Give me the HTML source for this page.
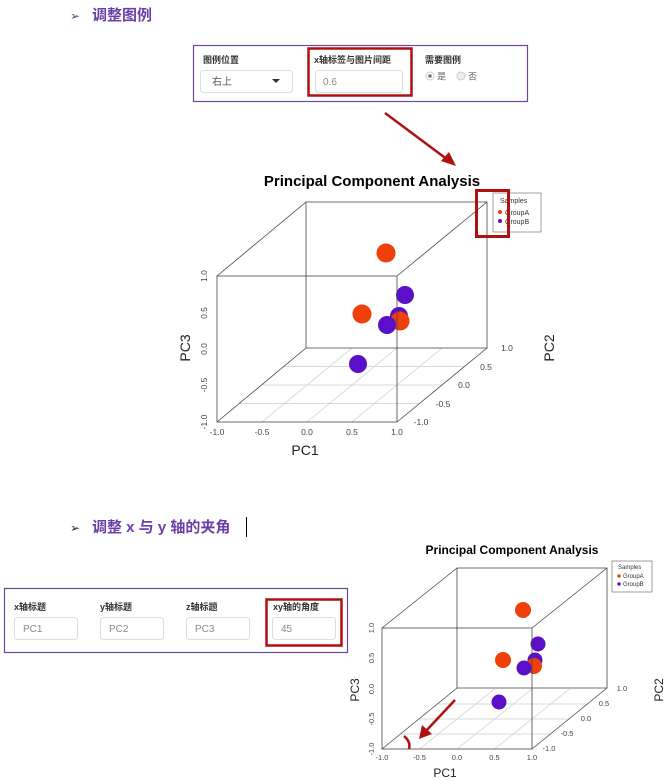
<!DOCTYPE html>
<html><head><meta charset="utf-8"><style>
html,body{margin:0;padding:0;background:#fff;width:666px;height:781px;overflow:hidden}
svg{display:block}
text{font-family:"Liberation Sans","Noto Sans CJK SC",sans-serif}
</style></head><body>
<svg width="666" height="781" viewBox="0 0 666 781" xmlns="http://www.w3.org/2000/svg">
<!-- heading 1 -->
<text x="70" y="20" font-size="12" fill="#5a3a8a">➢</text>
<text x="92" y="20" font-size="15" font-weight="bold" fill="#6b3fa6">调整图例</text>

<!-- top form -->
<rect x="193.5" y="45.5" width="334" height="56" fill="#fff" stroke="#6b4a9a" stroke-width="1.2"/>
<text x="203" y="63" font-size="9" font-weight="bold" fill="#333">图例位置</text>
<rect x="200.5" y="70.5" width="92" height="22" rx="3" fill="#fff" stroke="#ddd"/>
<text x="212" y="85" font-size="10" fill="#555">右上</text>
<polygon points="272,79 280,79 276,83" fill="#333"/>
<rect x="308.5" y="48.5" width="103" height="47" fill="none" stroke="#b01010" stroke-width="2.5"/>
<text x="314" y="63" font-size="9" font-weight="bold" fill="#333">x轴标签与图片间距</text>
<rect x="315.5" y="70.5" width="87" height="22" rx="3" fill="#fff" stroke="#ddd"/>
<text x="323" y="85" font-size="10" fill="#888">0.6</text>
<text x="425" y="63" font-size="9" font-weight="bold" fill="#333">需要图例</text>
<circle cx="430" cy="76" r="4" fill="#fff" stroke="#ccc"/><circle cx="430" cy="76" r="1.8" fill="#777"/>
<text x="437" y="79.5" font-size="9" fill="#666">是</text>
<circle cx="461" cy="76" r="4" fill="#eee" stroke="#ccc"/>
<text x="468" y="79.5" font-size="9" fill="#666">否</text>

<!-- arrow top -->
<line x1="385" y1="113" x2="448" y2="160" stroke="#b01010" stroke-width="2.5"/>
<polygon points="456,166 441,161 449,152" fill="#b01010"/>

<!-- top plot -->
<text x="372" y="186" font-size="15" font-weight="bold" text-anchor="middle" fill="#000">Principal Component Analysis</text>
<g stroke="#ccc" stroke-width="0.7">
<line x1="262" y1="422" x2="352" y2="348"/><line x1="307" y1="422" x2="397" y2="348"/><line x1="352" y1="422" x2="442" y2="348"/>
<line x1="239" y1="403.5" x2="419" y2="403.5"/><line x1="262" y1="385" x2="442" y2="385"/><line x1="284" y1="366.5" x2="464" y2="366.5"/>
</g>
<g stroke="#444" stroke-width="0.8" fill="none">
<polyline points="306,348 306,202 487,202 487,348 306,348"/>
<line x1="217" y1="276" x2="306" y2="202"/><line x1="397" y1="276" x2="487" y2="202"/>
<line x1="397" y1="422" x2="487" y2="348"/><line x1="217" y1="422" x2="306" y2="348"/>
</g>
<circle cx="358" cy="364" r="9" fill="#5a0fc8"/>
<circle cx="386" cy="253" r="9.5" fill="#f0400a"/>
<circle cx="362" cy="314" r="9.5" fill="#f0400a"/>
<circle cx="405" cy="295" r="9" fill="#5a0fc8"/>
<circle cx="399" cy="316" r="9" fill="#5a0fc8"/>
<circle cx="400" cy="321" r="9.5" fill="#f0400a"/>
<circle cx="387" cy="325" r="9" fill="#5a0fc8"/>
<rect x="217" y="276" width="180" height="146" fill="none" stroke="#444" stroke-width="0.8"/>
<g font-size="8.5" fill="#444" text-anchor="middle">
<text x="217" y="435">-1.0</text><text x="262" y="435">-0.5</text><text x="307" y="435">0.0</text><text x="352" y="435">0.5</text><text x="397" y="435">1.0</text>
<text transform="translate(207,276) rotate(-90)">1.0</text><text transform="translate(207,313) rotate(-90)">0.5</text><text transform="translate(207,349) rotate(-90)">0.0</text><text transform="translate(207,385) rotate(-90)">-0.5</text><text transform="translate(207,422) rotate(-90)">-1.0</text>
<text x="507" y="351">1.0</text><text x="486" y="370">0.5</text><text x="464" y="388">0.0</text><text x="443" y="407">-0.5</text><text x="421" y="425">-1.0</text>
</g>
<text x="305" y="455" font-size="14" text-anchor="middle" fill="#222">PC1</text>
<text transform="translate(190,348) rotate(-90)" font-size="14" text-anchor="middle" fill="#222">PC3</text>
<text transform="translate(554,348) rotate(-90)" font-size="14" text-anchor="middle" fill="#222">PC2</text>
<rect x="493" y="193" width="48" height="39" fill="#fff" stroke="#777" stroke-width="0.7"/>
<text x="500" y="203" font-size="7" fill="#333">Samples</text>
<circle cx="500" cy="212" r="2" fill="#f0400a"/><text x="505" y="215" font-size="7" fill="#333">GroupA</text>
<circle cx="500" cy="221" r="2" fill="#5a0fc8"/><text x="505" y="224" font-size="7" fill="#333">GroupB</text>
<rect x="476.5" y="190.5" width="32" height="46" fill="none" stroke="#b01010" stroke-width="3"/>

<!-- heading 2 -->
<text x="70" y="532" font-size="12" fill="#222">➢</text>
<text x="92" y="532" font-size="15" font-weight="bold" fill="#6b3fa6">调整 x 与 y 轴的夹角</text>
<line x1="246.5" y1="517" x2="246.5" y2="537" stroke="#000" stroke-width="1"/>

<!-- bottom form -->
<rect x="4.5" y="588.5" width="343" height="64" fill="#fff" stroke="#6b4a9a" stroke-width="1.2"/>
<g font-size="9" font-weight="bold" fill="#333">
<text x="14" y="610">x轴标题</text><text x="100" y="610">y轴标题</text><text x="186" y="610">z轴标题</text><text x="273" y="610">xy轴的角度</text>
</g>
<g fill="#fff" stroke="#ddd">
<rect x="14.5" y="617.5" width="63" height="22" rx="3"/><rect x="100.5" y="617.5" width="63" height="22" rx="3"/><rect x="186.5" y="617.5" width="63" height="22" rx="3"/><rect x="272.5" y="617.5" width="63" height="22" rx="3"/>
</g>
<g font-size="10" fill="#888">
<text x="23" y="632">PC1</text><text x="109" y="632">PC2</text><text x="195" y="632">PC3</text><text x="281" y="632">45</text>
</g>
<rect x="266.5" y="599.5" width="75" height="46" fill="none" stroke="#b01010" stroke-width="2.5"/>

<!-- bottom plot -->
<text x="512" y="554" font-size="12" font-weight="bold" text-anchor="middle" fill="#000">Principal Component Analysis</text>
<g stroke="#ccc" stroke-width="0.7">
<line x1="419.5" y1="749" x2="494.5" y2="689"/><line x1="457" y1="749" x2="532" y2="689"/><line x1="494.5" y1="749" x2="569.5" y2="689"/>
<line x1="401" y1="734" x2="551" y2="734"/><line x1="419.5" y1="719" x2="569.5" y2="719"/><line x1="438" y1="704" x2="588" y2="704"/>
</g>
<g stroke="#444" stroke-width="0.8" fill="none">
<polyline points="457,688 457,568 607,568 607,688 457,688"/>
<line x1="382" y1="628" x2="457" y2="568"/><line x1="532" y1="628" x2="607" y2="568"/>
<line x1="532" y1="749" x2="607" y2="688"/><line x1="382" y1="749" x2="457" y2="688"/>
</g>
<circle cx="499" cy="702" r="7.5" fill="#5a0fc8"/>
<circle cx="523" cy="610" r="8" fill="#f0400a"/>
<circle cx="503" cy="660" r="8" fill="#f0400a"/>
<circle cx="538" cy="644" r="7.5" fill="#5a0fc8"/>
<circle cx="535" cy="660" r="7.5" fill="#5a0fc8"/>
<circle cx="534" cy="666" r="8" fill="#f0400a"/>
<circle cx="524" cy="668" r="7.5" fill="#5a0fc8"/>
<rect x="382" y="628" width="150" height="121" fill="none" stroke="#444" stroke-width="0.8"/>
<g font-size="7.5" fill="#444" text-anchor="middle">
<text x="382" y="760">-1.0</text><text x="419.5" y="760">-0.5</text><text x="457" y="760">0.0</text><text x="494.5" y="760">0.5</text><text x="532" y="760">1.0</text>
<text transform="translate(374,628) rotate(-90)">1.0</text><text transform="translate(374,658) rotate(-90)">0.5</text><text transform="translate(374,689) rotate(-90)">0.0</text><text transform="translate(374,719) rotate(-90)">-0.5</text><text transform="translate(374,749) rotate(-90)">-1.0</text>
<text x="622" y="691">1.0</text><text x="604" y="706">0.5</text><text x="586" y="721">0.0</text><text x="567" y="736">-0.5</text><text x="549" y="751">-1.0</text>
</g>
<text x="445" y="777" font-size="12" text-anchor="middle" fill="#222">PC1</text>
<text transform="translate(359,690) rotate(-90)" font-size="12" text-anchor="middle" fill="#222">PC3</text>
<text transform="translate(663,690) rotate(-90)" font-size="12" text-anchor="middle" fill="#222">PC2</text>
<rect x="612" y="561" width="40" height="31" fill="#fff" stroke="#777" stroke-width="0.7"/>
<text x="618" y="569" font-size="6" fill="#333">Samples</text>
<circle cx="619" cy="576" r="1.7" fill="#f0400a"/><text x="623" y="578" font-size="6" fill="#333">GroupA</text>
<circle cx="619" cy="584" r="1.7" fill="#5a0fc8"/><text x="623" y="586" font-size="6" fill="#333">GroupB</text>
<!-- red arrow and arc -->
<line x1="455" y1="700" x2="425" y2="732" stroke="#b01010" stroke-width="2.5"/>
<polygon points="419,739 422,725 432,734" fill="#b01010"/>
<path d="M404,736 Q411,742 409,749" fill="none" stroke="#b01010" stroke-width="2.5"/>
</svg>
</body></html>
